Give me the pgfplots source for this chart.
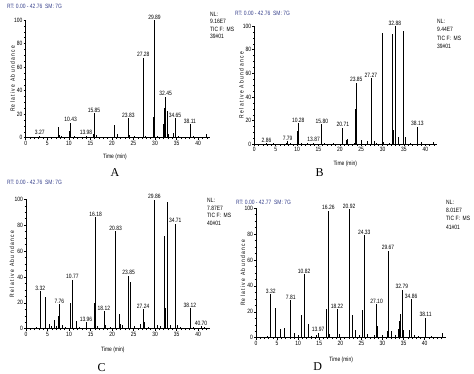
\documentclass[border=0pt]{standalone}
\usepackage{fontspec}
\setmainfont{Liberation Serif}
\newfontfamily\nar[FakeStretch=0.8]{Liberation Sans}
\usepackage{pgfplots}
\pgfplotsset{compat=1.18}
\definecolor{rtblue}{RGB}{55,65,140}
\newcommand{\sm}{\nar\fontsize{6.2}{7}\selectfont}
\pgfplotsset{chrom/.style={
  scale only axis, axis lines*=left, clip=false,
  ymin=0, ymax=100, xmin=0,
  ytick={0,20,...,100}, minor ytick={0,5,...,100},
  tick align=outside, major tick length=2pt, minor tick length=1.3pt,
  tick style={black, line width=0.45pt},
  axis line style={black, line width=0.6pt},
  ticklabel style={font=\sm},
  xticklabel style={inner sep=1pt},
  yticklabel style={inner sep=1pt},
  /pgf/number format/assume math mode=true,
},
peaks/.style={ycomb, black, line width=0.7pt, mark=none},
labs/.style={draw=none, mark=none, nodes near coords, point meta=explicit symbolic,
  nodes near coords style={font=\sm, anchor=south, inner sep=0.7pt, text=black}},
}
\newcommand{\ylab}[1]{\node[rotate=90, font=\sm\addfontfeature{LetterSpace=22}] at ([xshift=-#1]rel axis cs:0,0.5) {Relative Abundance};}

\pgfplotstableread{
t h
2.5 0.8
3.27 1.5
5.0 0.6
7.5 9.3
7.75 2
8.3 1.5
9.0 1
10.2 6
10.43 12.7
11.3 1.5
12.5 0.8
13.98 1.5
15.6 3
15.85 21
16.5 2
18.0 1
19.5 0.8
20.55 10.5
21.3 3.5
22.0 1
23.83 16.5
24.1 2
25.3 1.5
26.5 1
27.28 68
27.7 1.5
28.2 1
29.7 18
29.89 100
30.5 1.5
31.3 1
32.05 12
32.25 25.5
32.45 35
32.75 22.7
33.2 3
34.3 4
34.65 16.5
35.5 1.5
36.5 1
38.11 11.6
39.0 1.5
41.9 3
}\dataA
\pgfplotstableread{
x y l
3.27 1.5 3.27
10.43 12.7 10.43
13.98 1.5 13.98
15.85 21 15.85
23.83 16.5 23.83
27.28 68 27.28
29.89 100 29.89
32.45 35 32.45
34.65 16.5 34.65
38.11 11.6 38.11
}\labA

\pgfplotstableread{
t h
2.86 1
4.5 0.8
6.0 0.6
7.5 1.5
7.79 2.5
8.5 1
10.15 11
10.28 17.7
11.0 1.5
12.5 0.8
13.87 1.5
15.7 12
15.80 17
16.5 1.5
18.5 0.8
20.71 14
21.5 4
21.8 4.5
23.3 1.5
23.75 30
23.85 52
25.1 4
26.5 3
27.27 56
28.0 2.5
28.5 1.5
29.95 94
30.3 2
31.5 1.5
32.25 93
32.5 12
32.88 100
33.6 6
34.85 96
35.3 6
36.5 1
38.13 15
39.0 2
41.9 2
}\dataB
\pgfplotstableread{
x y l
2.86 1 2.86
7.79 2.5 7.79
10.28 17.7 10.28
13.87 1.5 13.87
15.80 17 15.80
20.71 14 20.71
23.85 52 23.85
27.27 56 27.27
32.88 100 32.88
38.13 15 38.13
}\labB

\pgfplotstableread{
t h
2.5 1
3.32 29
4.5 24.5
5.5 4
5.8 2
6.5 7
7.0 2
7.6 10
7.76 19
8.5 3
9.2 1.5
10.2 20
10.77 38
11.6 6
12.5 1
13.96 5
15.8 20
16.18 86
16.5 2
18.12 13.7
18.5 3
19.5 1
20.83 75.5
21.6 11
22.0 4
22.5 3
23.85 41
24.2 36
25.2 2
26.5 4
27.24 15
27.5 5
28.5 1.5
29.86 99.5
30.5 3
31.3 2
32.1 72
32.3 16
32.8 98
33.5 3
34.71 81
35.2 3
36.0 1
38.12 16
39.0 1.5
40.70 2
41.5 1
}\dataC
\pgfplotstableread{
x y l
3.32 29 3.32
7.76 19 7.76
10.77 38 10.77
13.96 5 13.96
16.18 86 16.18
18.12 13.7 18.12
20.83 75.5 20.83
23.85 41 23.85
27.24 15 27.24
29.86 99.5 29.86
34.71 81 34.71
38.12 16 38.12
40.70 2 40.70
}\labC

\pgfplotstableread{
t h
2.5 1
3.32 33.4
4.35 22.6
5.4 7
6.3 7.5
7.81 29
8.6 4
9.6 2
10.25 17.5
10.82 49
11.7 10.8
12.5 1.5
13.5 2
13.97 4
15.8 22
16.26 98
16.6 3
18.22 22
18.8 3
20.92 99
21.6 17.7
22.3 6
23.3 2
24.0 21
24.33 79
25.0 3
26.5 2
27.10 26
27.3 9
28.4 2
29.5 5
29.67 67
30.5 5
31.3 2
32.0 7
32.3 13
32.5 18
32.79 37
33.2 6
34.5 6
34.86 29.6
35.5 2
36.5 1.5
38.0 8
38.11 15.4
39.5 1.5
41.9 4
}\dataD
\pgfplotstableread{
x y l
3.32 33.4 3.32
7.81 29 7.81
10.82 49 10.82
13.97 4 13.97
16.26 98 16.26
18.22 22 18.22
20.92 99 20.92
24.33 79 24.33
27.10 26 27.10
29.67 67 29.67
32.79 37 32.79
34.86 29.6 34.86
38.11 15.4 38.11
}\labD

\begin{document}
\begin{tikzpicture}
\path[use as bounding box] (0pt,0pt) rectangle (474pt,373pt);

% ---------- A ----------
\begin{axis}[chrom, at={(25.7pt,235.3pt)}, anchor=south west,
  width=184.3pt, height=117.7pt, xmax=42.76,
  xtick={0,5,...,40}, minor xtick={0,1,...,42}]
\addplot[peaks] table[x=t,y=h] {\dataA};
\addplot[labs] table[x=x,y=y,meta=l] {\labA};
\ylab{13pt}
\node[font=\sm] at ([yshift=-19.3pt]axis cs:20.7,0) {Time (min)};
\end{axis}

% ---------- B ----------
\begin{axis}[chrom, at={(254.3pt,228.7pt)}, anchor=south west,
  width=182.8pt, height=118.3pt, xmax=42.76,
  xtick={0,5,...,40}, minor xtick={0,1,...,42}]
\addplot[peaks] table[x=t,y=h] {\dataB};
\addplot[labs] table[x=x,y=y,meta=l] {\labB};
\ylab{13pt}
\node[font=\sm] at ([yshift=-19.7pt]axis cs:21.3,0) {Time (min)};
\end{axis}

% ---------- C ----------
\begin{axis}[chrom, at={(26pt,44.3pt)}, anchor=south west,
  width=183.9pt, height=129.4pt, xmax=42.76,
  xtick={0,5,...,40}, minor xtick={0,1,...,42}]
\addplot[peaks] table[x=t,y=h] {\dataC};
\addplot[labs] table[x=x,y=y,meta=l] {\labC};
\ylab{14pt}
\node[font=\sm] at ([yshift=-21.6pt]axis cs:20.2,0) {Time (min)};
\end{axis}

% ---------- D ----------
\begin{axis}[chrom, at={(256pt,35.3pt)}, anchor=south west,
  width=189.5pt, height=129.7pt, xmax=42.6,
  xtick={0,4.7393,9.4787,14.218,18.957,23.697,28.436,33.175,37.915},
  xticklabels={0,5,10,15,20,25,30,35,40},
  minor xtick={0,0.94787,...,42.6}]
\addplot[peaks] table[x=t,y=h] {\dataD};
\addplot[labs] table[x=x,y=y,meta=l] {\labD};
\ylab{13pt}
\node[font=\sm] at ([yshift=-22.3pt]axis cs:19.15,0) {Time (min)};
\end{axis}

% header texts
\node[anchor=west, font=\sm, text=rtblue, inner sep=0] at (7pt,367pt) {RT: 0.00 - 42.76 \ SM: 7G};
\node[anchor=west, font=\sm, text=rtblue, inner sep=0] at (235pt,360pt) {RT: 0.00 - 42.76 \ SM: 7G};
\node[anchor=west, font=\sm, text=rtblue, inner sep=0] at (7pt,190.3pt) {RT: 0.00 - 42.76 \ SM: 7G};
\node[anchor=west, font=\sm, text=rtblue, inner sep=0] at (236pt,170.3pt) {RT: 0.00 - 42.77 \ SM: 7G};

\node[anchor=north west, align=left, inner sep=0, font=\nar\fontsize{6.2}{7.4}\selectfont] at (210pt,361pt) {NL:\\9.16E7\\TIC F: \ MS\\39\#01};
\node[anchor=north west, align=left, inner sep=0, font=\nar\fontsize{6.2}{8.6}\selectfont] at (437pt,354.3pt) {NL:\\9.44E7\\TIC F: \ MS\\39\#01};
\node[anchor=north west, align=left, inner sep=0, font=\nar\fontsize{6.2}{7.7}\selectfont] at (207pt,175pt) {NL:\\7.87E7\\TIC F: \ MS\\40\#01};
\node[anchor=north west, align=left, inner sep=0, font=\nar\fontsize{6.2}{8.2}\selectfont] at (446pt,173pt) {NL:\\8.01E7\\TIC F: \ MS\\41\#01};

% panel letters
\node[font=\fontsize{12}{13}\selectfont] at (115pt,200pt) {A};
\node[font=\fontsize{12}{13}\selectfont] at (319.7pt,200.3pt) {B};
\node[font=\fontsize{12}{13}\selectfont] at (101.7pt,5.8pt) {C};
\node[font=\fontsize{12}{13}\selectfont] at (317.7pt,6.3pt) {D};
\end{tikzpicture}
\end{document}
